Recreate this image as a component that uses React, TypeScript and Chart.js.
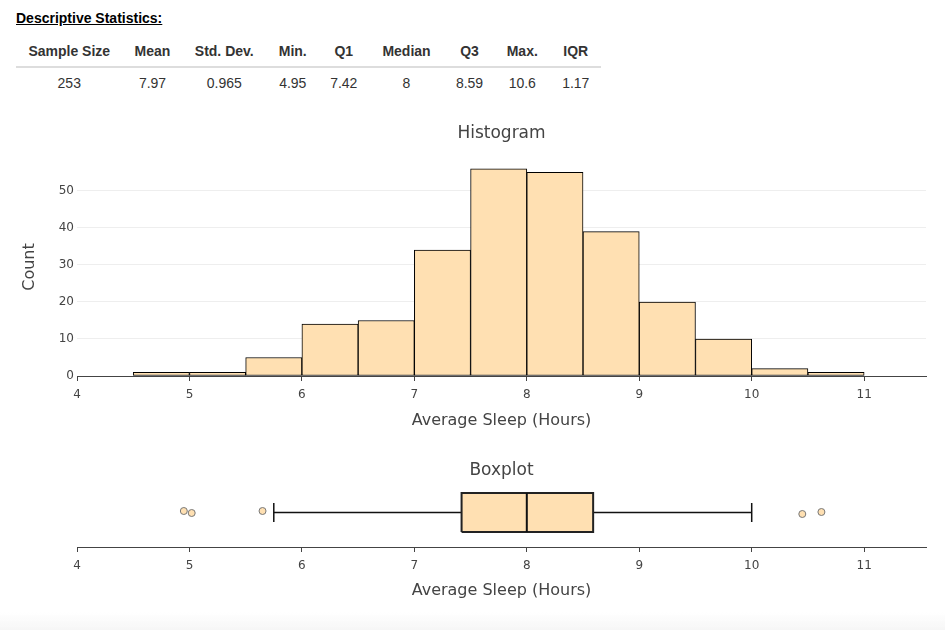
import React, { useEffect, useRef } from 'react';
import { Chart, registerables } from 'chart.js';

Chart.register(...registerables);

// ---------- data ----------
const statLabels = ['Sample Size', 'Mean', 'Std. Dev.', 'Min.', 'Q1', 'Median', 'Q3', 'Max.', 'IQR'];
const statValues = ['253', '7.97', '0.965', '4.95', '7.42', '8', '8.59', '10.6', '1.17'];

const binStarts = [4.5, 5, 5.5, 6, 6.5, 7, 7.5, 8, 8.5, 9, 9.5, 10, 10.5];
const binCounts = [1, 1, 5, 14, 15, 34, 56, 55, 39, 20, 10, 2, 1];
const BIN_WIDTH = 0.5;

const X_MIN = 4;
const X_MAX = 11.55;
const HIST_Y_MAX = 58.9;

const boxLowerWhisker = 5.75;
const boxQ1 = 7.42;
const boxMedian = 8;
const boxQ3 = 8.59;
const boxUpperWhisker = 10;
const outlierValues = [4.95, 5.02, 5.65, 10.45, 10.62];
const outlierJitter = [1.5, -0.5, 1.5, -1.5, 0.5];

// ---------- style ----------
const FONT = 'DejaVu Sans';
const TEXT = '#444';
const FILL = 'rgb(255, 224, 178)';
const BOX_HALF = 19.5;
const CAP_HALF = 9.5;
const BOX_Y_MIN = -34.5;
const BOX_Y_MAX = 22.5;
const colWidths = [106.5, 60, 83.5, 53.5, 48.5, 77, 49, 56.5, 50.5];

Chart.defaults.font.family = FONT;

function xScale(height: number, titleBottom: number) {
  return {
    type: 'linear' as const,
    min: X_MIN,
    max: X_MAX,
    offset: false,
    grid: { offset: false, drawOnChartArea: false, drawTicks: true, tickLength: 5, color: TEXT },
    border: { display: true, color: TEXT, width: 1 },
    ticks: {
      stepSize: 1,
      includeBounds: false,
      autoSkip: false,
      maxRotation: 0,
      padding: 7,
      color: TEXT,
      font: { family: FONT, size: 12 },
    },
    title: {
      display: true,
      text: 'Average Sleep (Hours)',
      color: TEXT,
      font: { family: FONT, size: 16 },
      padding: { top: 0, bottom: titleBottom },
    },
    afterFit: (s: any) => {
      s.height = height;
    },
  };
}

function HistogramChart() {
  const ref = useRef<HTMLCanvasElement | null>(null);
  useEffect(() => {
    if (!ref.current) return;
    const chart = new Chart(ref.current, {
      type: 'bar',
      data: {
        datasets: [
          {
            data: binStarts.map((s, i) => ({ x: s + BIN_WIDTH / 2, y: binCounts[i] })),
            backgroundColor: FILL,
            borderColor: '#000',
            borderWidth: 1,
            borderSkipped: false,
            barPercentage: 1,
            categoryPercentage: 1,
          } as any,
        ],
      },
      options: {
        animation: false,
        responsive: true,
        maintainAspectRatio: false,
        layout: { padding: { left: 0, right: 19, top: 0, bottom: 0 } },
        plugins: {
          legend: { display: false },
          tooltip: { enabled: false },
          title: {
            display: true,
            text: 'Histogram',
            fullSize: false,
            color: TEXT,
            font: { family: FONT, size: 17, weight: 'normal' },
            padding: { top: 13.8, bottom: 13.8 },
          },
        },
        scales: {
          x: xScale(64, 9.4) as any,
          y: {
            min: 0,
            max: HIST_Y_MAX,
            grid: { color: '#eee', drawTicks: false },
            border: { display: false },
            ticks: {
              stepSize: 10,
              includeBounds: false,
              padding: 3,
              color: TEXT,
              font: { family: FONT, size: 12 },
            },
            title: {
              display: true,
              text: 'Count',
              color: TEXT,
              font: { family: FONT, size: 16 },
              padding: { top: 20.4, bottom: 0 },
            },
            afterFit: (s: any) => {
              s.width = 77;
            },
          },
        },
      },
    });
    return () => chart.destroy();
  }, []);
  return <canvas ref={ref} />;
}

function BoxplotChart() {
  const ref = useRef<HTMLCanvasElement | null>(null);
  useEffect(() => {
    if (!ref.current) return;
    const line = (pts: { x: number; y: number }[], width: number, color: string, order: number) => ({
      data: pts,
      showLine: true,
      pointRadius: 0,
      borderColor: color,
      borderWidth: width,
      fill: false,
      order,
    });
    const chart = new Chart(ref.current, {
      type: 'scatter',
      data: {
        datasets: [
          {
            data: [
              { x: boxQ1, y: -BOX_HALF },
              { x: boxQ3, y: -BOX_HALF },
            ],
            showLine: true,
            pointRadius: 0,
            borderWidth: 0,
            borderColor: 'rgba(0,0,0,0)',
            backgroundColor: FILL,
            fill: { value: BOX_HALF },
            order: 9,
          } as any,
          line([{ x: boxLowerWhisker, y: 0 }, { x: boxQ1, y: 0 }], 1.5, '#111', 8),
          line([{ x: boxQ3, y: 0 }, { x: boxUpperWhisker, y: 0 }], 1.5, '#111', 7),
          line([{ x: boxLowerWhisker, y: -CAP_HALF }, { x: boxLowerWhisker, y: CAP_HALF }], 1.5, '#111', 6),
          line([{ x: boxUpperWhisker, y: -CAP_HALF }, { x: boxUpperWhisker, y: CAP_HALF }], 1.5, '#111', 5),
          line(
            [
              { x: boxQ1, y: -BOX_HALF },
              { x: boxQ1, y: BOX_HALF },
              { x: boxQ3, y: BOX_HALF },
              { x: boxQ3, y: -BOX_HALF },
              { x: boxQ1, y: -BOX_HALF },
            ],
            2,
            '#222',
            4
          ),
          line([{ x: boxMedian, y: -BOX_HALF }, { x: boxMedian, y: BOX_HALF }], 2, '#111', 3),
          {
            data: outlierValues.map((v, i) => ({ x: v, y: outlierJitter[i] })),
            showLine: false,
            pointRadius: 3.5,
            pointBackgroundColor: FILL,
            pointBorderColor: '#777',
            pointBorderWidth: 1,
            order: 1,
          } as any,
        ],
      },
      options: {
        animation: false,
        responsive: true,
        maintainAspectRatio: false,
        layout: { padding: { left: 77, right: 19, top: 0, bottom: 0 } },
        plugins: {
          legend: { display: false },
          tooltip: { enabled: false },
          title: {
            display: true,
            text: 'Boxplot',
            fullSize: false,
            color: TEXT,
            font: { family: FONT, size: 17, weight: 'normal' },
            padding: { top: 20.8, bottom: 8.8 },
          },
        },
        scales: {
          x: xScale(83, 29.4) as any,
          y: { display: false, min: BOX_Y_MIN, max: BOX_Y_MAX },
        },
      },
    });
    return () => chart.destroy();
  }, []);
  return <canvas ref={ref} />;
}

export default function App() {
  const cell: React.CSSProperties = {
    padding: 0,
    height: 30,
    textAlign: 'center',
    verticalAlign: 'middle',
    whiteSpace: 'nowrap',
  };
  return (
    <div
      style={{
        position: 'absolute',
        left: 0,
        top: 0,
        width: 945,
        height: 630,
        background: '#fff',
        overflow: 'hidden',
        fontFamily: '"Liberation Sans", Arial, sans-serif',
        color: '#333',
      }}
    >
      <div
        style={{
          position: 'absolute',
          left: 16,
          top: 9,
          fontSize: 14,
          lineHeight: '18px',
          fontWeight: 'bold',
          textDecoration: 'underline',
          color: '#000',
        }}
      >
        Descriptive Statistics:
      </div>
      <table
        style={{
          position: 'absolute',
          left: 16,
          top: 36,
          width: 585,
          borderCollapse: 'collapse',
          tableLayout: 'fixed',
          fontSize: 14,
        }}
      >
        <colgroup>
          {colWidths.map((w, i) => (
            <col key={i} style={{ width: w }} />
          ))}
        </colgroup>
        <thead>
          <tr style={{ borderBottom: '2px solid #ddd' }}>
            {statLabels.map((l) => (
              <th key={l} style={{ ...cell, fontWeight: 'bold' }}>
                {l}
              </th>
            ))}
          </tr>
        </thead>
        <tbody>
          <tr>
            {statValues.map((v, i) => (
              <td key={i} style={cell}>
                {v}
              </td>
            ))}
          </tr>
        </tbody>
      </table>
      <div style={{ position: 'absolute', left: 0, top: 110, width: 945, height: 330 }}>
        <HistogramChart />
      </div>
      <div style={{ position: 'absolute', left: 0, top: 440, width: 945, height: 190 }}>
        <BoxplotChart />
      </div>
      <div
        style={{
          position: 'absolute',
          left: 0,
          top: 612,
          width: 945,
          height: 18,
          background: 'linear-gradient(rgba(255,255,255,0), #f6f6f6)',
        }}
      />
    </div>
  );
}
